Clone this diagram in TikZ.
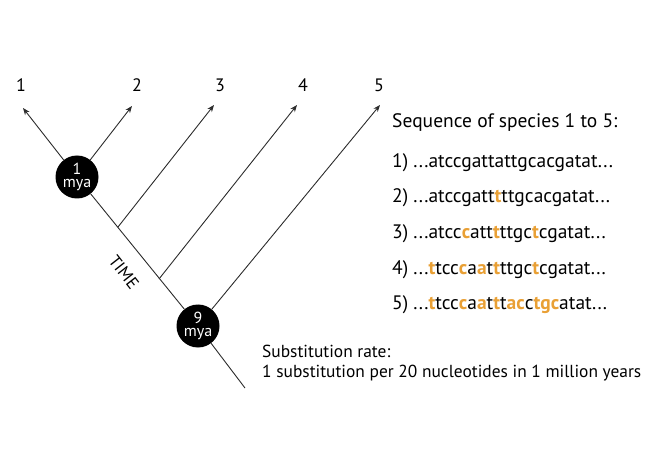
\documentclass[tikz,border=0pt]{standalone}
\usepackage{fontspec}
\setmainfont{PT Sans}
\usetikzlibrary{arrows.meta}
\definecolor{orng}{HTML}{E9A035}
\definecolor{ln}{HTML}{2B2B2B}
\newcommand{\og}[1]{\textcolor{orng}{\textbf{#1}}}
\tikzset{
  branch/.style={draw=ln, line width=0.9pt},
  arr/.style={branch, -{Stealth[length=7pt,width=5.5pt]}},
  mya/.style={circle, fill=black, minimum size=43pt, inner sep=0pt, text=white, font=\fontsize{16}{13}\selectfont, align=center},
  lab/.style={font=\fontsize{18}{18}\selectfont, inner sep=0pt},
  seq/.style={font=\fontsize{19.5}{19.5}\selectfont, anchor=west, inner sep=0pt},
}
\begin{document}
\begin{tikzpicture}[x=1pt,y=-1pt]
\useasboundingbox (0,0) rectangle (659,465);
% tips
\coordinate (t1) at (23,108);
\coordinate (t2) at (132,106);
\coordinate (t3) at (214,105);
\coordinate (t4) at (297,105);
\coordinate (t5) at (380,105);
\coordinate (bot) at (245,388);
\coordinate (j3) at (118,227);
\coordinate (j4) at (159,279);
% nodes
\node[mya] (m1) at (77,177) {1\\mya};
\node[mya] (m9) at (198,326) {9\\mya};
% lines
\draw[branch] (m9) -- (bot);
\draw[branch] (m1) -- (m9);
\draw[arr] (m1) -- (t1);
\draw[arr] (m1) -- (t2);
\draw[arr] (j3) -- (t3);
\draw[arr] (j4) -- (t4);
\draw[arr] (m9) -- (t5);
% labels
\node[lab] (l1) at (21,85) {1};
\node[lab] (l2) at (137,85) {2};
\node[lab] (l3) at (220,85) {3};
\node[lab] (l4) at (303,85) {4};
\node[lab] (l5) at (379,85) {5};
\node[rotate=-52, font=\fontsize{17}{17}\selectfont, inner sep=0pt] (time) at (124,272) {TIME};
% sequences
\node[seq] (h) at (392,123) {Sequence of species 1 to 5:};
\node[seq] (s1) at (392,163) {1) ...atccgattattgcacgatat...};
\node[seq] (s2) at (392,198) {2) ...atccgatt\og{t}ttgcacgatat...};
\node[seq] (s3) at (392,234) {3) ...atcc\og{c}att\og{t}ttgc\og{t}cgatat...};
\node[seq] (s4) at (392,270) {4) ...\og{t}tcc\og{c}a\og{a}t\og{t}ttgc\og{t}cgatat...};
\node[seq] (s5) at (392,305) {5) ...\og{t}tcc\og{c}a\og{a}t\og{t}t\og{ac}c\og{tgc}atat...};
\node[seq, font=\fontsize{17.4}{17.4}\selectfont] (r1) at (262,351) {Substitution rate:};
\node[seq, font=\fontsize{17.4}{17.4}\selectfont] (r2) at (262,373) {1 substitution per 20 nucleotides in 1 million years};
\end{tikzpicture}
\end{document}
